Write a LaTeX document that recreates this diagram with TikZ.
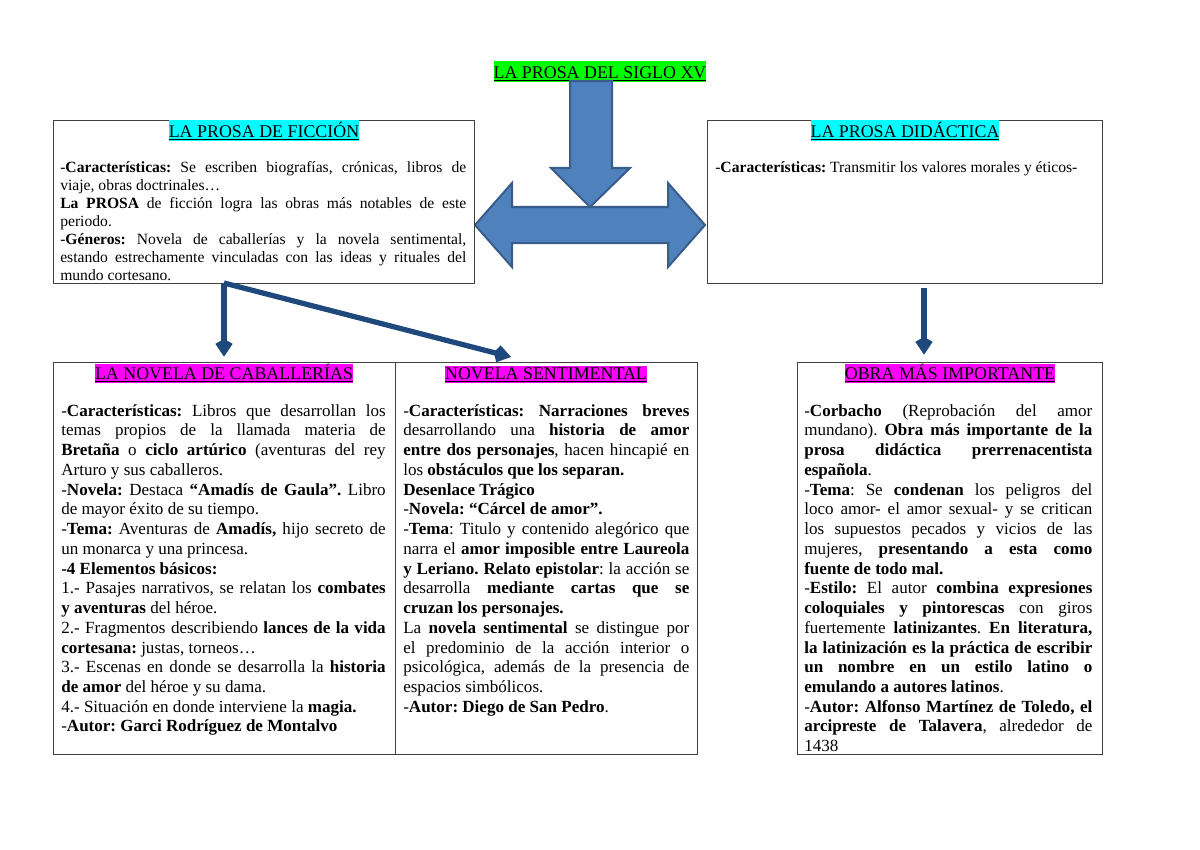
\documentclass[tikz,border=0pt]{standalone}
\usepackage{fontspec}
\setmainfont{Liberation Serif}
\usepackage{xcolor}
\usetikzlibrary{arrows.meta,fit}
\setlength{\parindent}{0pt}
\frenchspacing

\definecolor{verdeT}{RGB}{0,255,0}
\definecolor{cianT}{RGB}{0,255,255}
\definecolor{magentaT}{RGB}{255,0,255}
\definecolor{azulF}{RGB}{79,129,189}
\definecolor{bordeF}{RGB}{56,93,138}
\definecolor{azulC}{RGB}{31,73,125}

% resaltado de los titulos: alto, bajo, color, texto
\newcommand{\resaltar}[4]{{\setlength{\fboxsep}{0pt}\colorbox{#3}{\rule[-#2]{0pt}{#1}\underline{#4}}}}

\tikzset{
  caja/.style={draw=black!75, line width=0.6pt, inner sep=0pt},
  cabecera/.style={font=\fontsize{12.6}{14}\selectfont, inner sep=0pt, anchor=base},
  cuerpo/.style={align=justify, inner sep=0pt, anchor=north west, font=\fontsize{12}{13.9}\selectfont},
  cuerpochico/.style={cuerpo, font=\fontsize{11}{12.65}\selectfont},
  bloque/.style={fill=azulF, draw=bordeF, line width=0.5mm},
  flecha/.style={draw=azulC, line width=1.3mm, -{Kite[length=4.4mm,width=4.3mm,inset=1.2mm]}}
}

\begin{document}
\begin{tikzpicture}[x=0.2475mm, y=-0.2475mm]
\useasboundingbox (0,0) rectangle (1200,849);

\node[cabecera] (siglo) at (600,78) {\resaltar{1.15em}{0.2em}{verdeT}{LA PROSA DEL SIGLO XV}};

% flecha grande
\filldraw[bloque] (475,225) -- (512,183) -- (512,207) -- (668,207) -- (668,183) -- (705,225)
  -- (668,267) -- (668,243) -- (512,243) -- (512,267) -- cycle;
\filldraw[bloque] (570,81) -- (612,81) -- (612,168) -- (630,168) -- (590,207) -- (551,168)
  -- (570,168) -- cycle;

% cajas de arriba
\node[caja, fit={(53,120) (474,283)}] (ficcion) {};
\node[cabecera] (ficcionTit) at (264,137) {\resaltar{1.15em}{0.2em}{cianT}{LA PROSA DE FICCIÓN}};
\node[cuerpochico, text width=100.5mm] (ficcionTxt) at (60,161) {-\textbf{Características:} Se escriben biografías, crónicas, libros de\linebreak
viaje, obras doctrinales…\\
\textbf{La PROSA} de ficción logra las obras más notables de este\linebreak
periodo.\\
-\textbf{Géneros:} Novela de caballerías y la novela sentimental,\linebreak
estando estrechamente vinculadas con las ideas y rituales del\linebreak
mundo cortesano.};

\node[caja, fit={(707,120) (1102,283)}] (didactica) {};
\node[cabecera] (didacticaTit) at (905,137) {\resaltar{1.15em}{0.2em}{cianT}{LA PROSA DIDÁCTICA}};
\node[cuerpochico, text width=95mm] (didacticaTxt) at (715,161) {-\textbf{Características:} Transmitir los valores morales y éticos-};

% cajas de abajo
\node[caja, fit={(53,362) (395,754)}] (caballerias) {};
\node[cabecera] (caballeriasTit) at (224,379) {\resaltar{0.92em}{0.2em}{magentaT}{LA NOVELA DE CABALLERÍAS}};
\node[cuerpo, text width=80.3mm] (caballeriasTxt) at (61,404) {-\textbf{Características:} Libros que desarrollan los\linebreak
temas propios de la llamada materia de\linebreak
\textbf{Bretaña} o \textbf{ciclo artúrico} (aventuras del rey\linebreak
Arturo y sus caballeros.\\
-\textbf{Novela:} Destaca \textbf{“Amadís de Gaula”.} Libro\linebreak
de mayor éxito de su tiempo.\\
-\textbf{Tema:} Aventuras de \textbf{Amadís,} hijo secreto de\linebreak
un monarca y una princesa.\\
\textbf{-4 Elementos básicos:}\\
1.- Pasajes narrativos, se relatan los \textbf{combates}\linebreak
\textbf{y aventuras} del héroe.\\
2.- Fragmentos describiendo \textbf{lances de la vida}\linebreak
\textbf{cortesana:} justas, torneos…\\
3.- Escenas en donde se desarrolla la \textbf{historia}\linebreak
\textbf{de amor} del héroe y su dama.\\
4.- Situación en donde interviene la \textbf{magia.}\\
-\textbf{Autor: Garci Rodríguez de Montalvo}};

\node[caja, fit={(395,362) (697,754)}] (sentimental) {};
\node[cabecera] (sentimentalTit) at (546,379) {\resaltar{0.92em}{0.2em}{magentaT}{NOVELA SENTIMENTAL}};
\node[cuerpo, text width=70.8mm] (sentimentalTxt) at (403,404) {-\textbf{Características: Narraciones breves}\linebreak
desarrollando una \textbf{historia de amor}\linebreak
\textbf{entre dos personajes}, hacen hincapié en\linebreak
los \textbf{obstáculos que los separan.}\\
\textbf{Desenlace Trágico}\\
-\textbf{Novela: “Cárcel de amor”.}\\
-\textbf{Tema}: Titulo y contenido alegórico que\linebreak
narra el \textbf{amor imposible entre Laureola}\linebreak
\textbf{y Leriano. Relato epistolar}: la acción se\linebreak
desarrolla \textbf{mediante cartas que se}\linebreak
\textbf{cruzan los personajes.}\\
La \textbf{novela sentimental} se distingue por\linebreak
el predominio de la acción interior o\linebreak
psicológica, además de la presencia de\linebreak
espacios simbólicos.\\
-\textbf{Autor: Diego de San Pedro}.};

\node[caja, fit={(797,362) (1102,754)}] (obra) {};
\node[cabecera] (obraTit) at (950,379) {\resaltar{0.92em}{0.2em}{magentaT}{OBRA MÁS IMPORTANTE}};
\node[cuerpo, text width=71.3mm] (obraTxt) at (804,404) {-\textbf{Corbacho} (Reprobación del amor\linebreak
mundano). \textbf{Obra más importante de la}\linebreak
\textbf{prosa didáctica prerrenacentista}\linebreak
\textbf{española}.\\
-\textbf{Tema}: Se \textbf{condenan} los peligros del\linebreak
loco amor- el amor sexual- y se critican\linebreak
los supuestos pecados y vicios de las\linebreak
mujeres, \textbf{presentando a esta como}\linebreak
\textbf{fuente de todo mal.}\\
-\textbf{Estilo:} El autor \textbf{combina expresiones}\linebreak
\textbf{coloquiales y pintorescas} con giros\linebreak
fuertemente \textbf{latinizantes}. \textbf{En literatura,}\linebreak
\textbf{la latinización es la práctica de escribir}\linebreak
\textbf{un nombre en un estilo latino o}\linebreak
\textbf{emulando a autores latinos}.\\
-\textbf{Autor: Alfonso Martínez de Toledo, el}\linebreak
\textbf{arcipreste de Talavera}, alrededor de\linebreak
1438};

% flechas
\coordinate (bifurca) at (224,283);
\coordinate (llegada) at (511,357);
\coordinate (baja) at (924,283);
\draw[flecha, shorten >=1.2mm] (bifurca) -- (bifurca |- caballerias.north);
\draw[flecha] (bifurca) -- (llegada);
\draw[flecha, shorten <=1.2mm, shorten >=1.7mm] (baja) -- (baja |- obra.north);
\end{tikzpicture}
\end{document}
